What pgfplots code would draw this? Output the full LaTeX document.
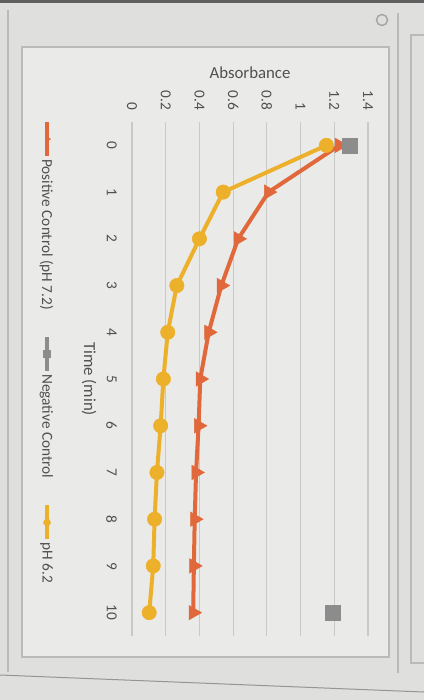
\documentclass[border=0pt]{standalone}
\usepackage{fontspec}
\setmainfont{Carlito}
\usepackage{pgfplots}
\pgfplotsset{compat=1.18}
\definecolor{posc}{HTML}{E0683A}
\definecolor{phc}{HTML}{EDB02A}
\definecolor{negc}{HTML}{8C8C8C}
\definecolor{gridc}{HTML}{C9C9C7}
\definecolor{txtc}{HTML}{505050}
\definecolor{bgout}{HTML}{DFDFDD}
\definecolor{bgin}{HTML}{EAEAE8}
\definecolor{framec}{HTML}{BABAB8}
\newcommand\lab{\fontsize{15.3}{18}\selectfont}
\newcommand\tit{\fontsize{16.8}{20}\selectfont}
\begin{document}
\rotatebox{-90}{%
\begin{tikzpicture}[x=1pt,y=1pt]
\useasboundingbox (0,0) rectangle (700,424);
\fill[bgout] (0,0) rectangle (700,424);
\fill[gray!75!black] (0,0) rectangle (3,424);
\draw[framec!80!black, line width=1pt] (675,0) -- (692,424);
\draw[framec, line width=1.2pt] (10,8) -- (672,8);
\draw[framec, line width=1.2pt] (13,398) -- (673,398);
\draw[framec, line width=1.2pt] (35,424) -- (35,411) -- (663,411) -- (663,424);
\draw[gray!70, line width=1.5pt] (20,382) circle (5.5);
\filldraw[fill=bgin, draw=framec, line width=1.2pt] (47,22) rectangle (657,389);
\begin{axis}[
  at={(122pt,132pt)}, anchor=south west,
  scale only axis, width=514pt, height=236pt,
  xmin=-0.5, xmax=10.5, ymin=0, ymax=1.4,
  clip=false,
  xtick={0,1,2,3,4,5,6,7,8,9,10},
  xticklabels={0,1,2,3,4,5,6,7,8,9,10},
  ytick={0,0.2,0.4,0.6,0.8,1,1.2,1.4},
  yticklabels={0,0.2,0.4,0.6,0.8,1,1.2,1.4},
  ymajorgrids,
  grid style={line width=1.1pt, gridc},
  axis line style={draw=none},
  major tick length=0pt,
  tick label style={font=\lab, text=txtc},
  yticklabel style={inner sep=0pt, xshift=-12pt},
  xticklabel style={inner sep=0pt, yshift=-15pt},
  xlabel={Time (min)},
  ylabel={Absorbance},
  label style={font=\tit, text=txtc},
  xlabel style={at={(axis description cs:0.5,-0.203)}, anchor=base},
  ylabel style={at={(axis description cs:-0.0837,0.5)}, anchor=base, rotate=0},
  unbounded coords=jump,
  legend columns=3,
  legend style={draw=none, fill=none, font=\lab, text=txtc,
    at={(axis description cs:0.4484,-0.36)}, anchor=center,
    nodes={inner sep=1.5pt},
    /tikz/every even column/.append style={column sep=24pt}},
  legend image code/.code={\draw[mark repeat=2,mark phase=2,#1, mark size=3.5pt, line width=3.5pt] plot coordinates {(0pt,0pt) (17pt,0pt) (34pt,0pt)};},
]
\addplot[posc, line width=4pt, mark=triangle*, mark size=8.3pt, mark options={solid, fill=posc, draw=posc, line width=0.5pt}]
coordinates {(0,1.23) (1,0.81) (2,0.63) (3,0.53) (4,0.455) (5,0.405) (6,0.395) (7,0.38) (8,0.372) (9,0.367) (10,0.363)};
\addlegendentry{Positive Control (pH 7.2)}
\addplot[negc, line width=4pt, mark=square*, mark size=7.5pt, mark options={solid, fill=negc, draw=negc, line width=0.5pt}]
coordinates {(0,1.29) (1,nan) (2,nan) (3,nan) (4,nan) (5,nan) (6,nan) (7,nan) (8,nan) (9,nan) (10,1.19)};
\addlegendentry{Negative Control}
\addplot[phc, line width=4pt, mark=*, mark size=7.2pt, mark options={solid, fill=phc, draw=phc, line width=0.5pt}]
coordinates {(0,1.153) (1,0.541) (2,0.40) (3,0.266) (4,0.212) (5,0.186) (6,0.17) (7,0.148) (8,0.134) (9,0.126) (10,0.102)};
\addlegendentry{pH 6.2}
\end{axis}
\end{tikzpicture}}
\end{document}
